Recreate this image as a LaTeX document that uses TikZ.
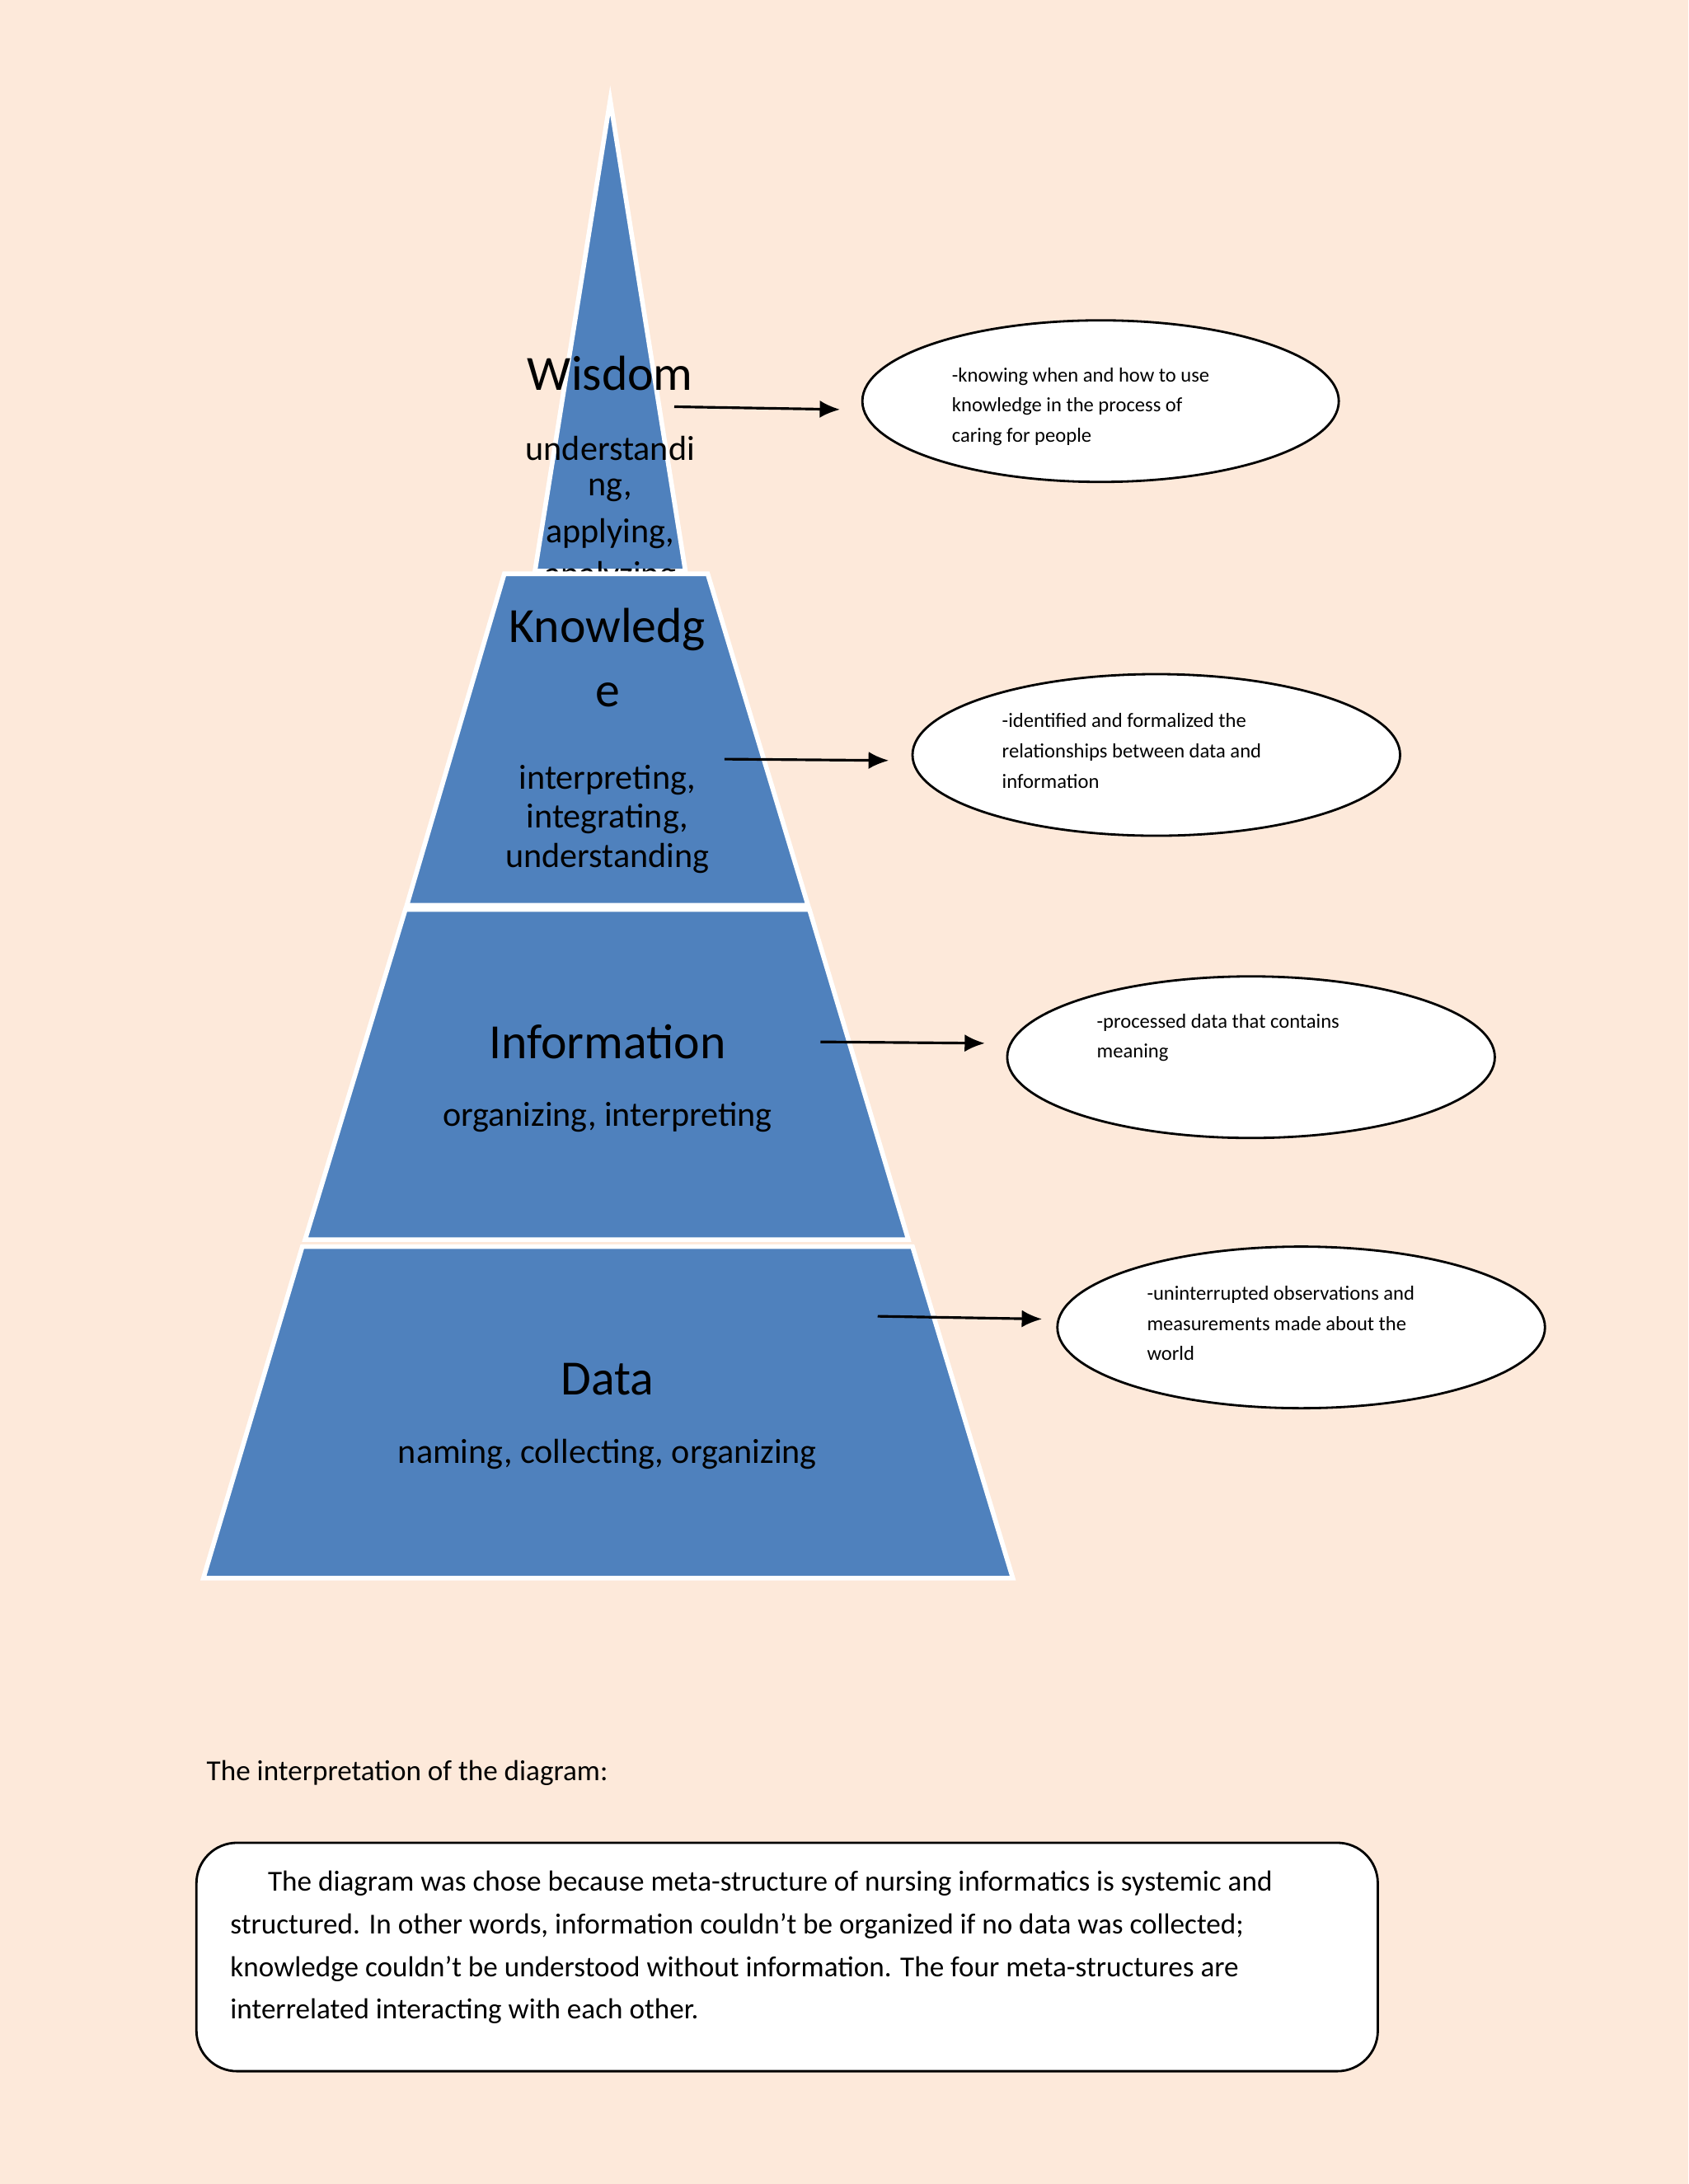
\documentclass[tikz,border=0pt]{standalone}
\usepackage{fontspec}
\setmainfont{Carlito}
\usetikzlibrary{arrows.meta}
\definecolor{bg}{HTML}{FDE9DA}
\definecolor{pyr}{HTML}{4F81BD}
\tikzset{
 layer/.style={fill=pyr,draw=white,line width=1.6pt},
 bubble/.style={ellipse,draw=black,fill=white,line width=0.8pt},
 conn/.style={-{Latex[length=7pt,width=6pt]},line width=0.9pt},
 big/.style={font=\fontsize{17}{20}\selectfont},
 mid/.style={font=\fontsize{12}{14.5}\selectfont},
 small/.style={font=\fontsize{7}{10.5}\selectfont,align=left,anchor=west},
}
\usetikzlibrary{shapes.geometric}
\begin{document}
\begin{tikzpicture}[x=0.0169cm,y=-0.0169cm]
\fill[bg] (0,0) rectangle (1212,1568);
\useasboundingbox (0,0) rectangle (1212,1568);
% wisdom
\draw[layer] (438,72) -- (492,410) -- (384,410) -- cycle;
\node[big] (tw) at (438,268) {Wisdom};
\node[mid] (tw1) at (438,322) {understandi};
\node[mid] (tw2) at (438,352) {ng,};
\node[mid] (tw3) at (438,383) {applying,};
\node[mid] (tw4) at (438,414) {analyzing};
% knowledge
\draw[layer] (362,412) -- (508,412) -- (580,650) -- (292,650) -- cycle;
\node[big] (tk1) at (436,452) {Knowledg};
\node[big] (tk2) at (436,499) {e};
\node[mid,align=center] (tk3) at (436,588) {interpreting,\\[-1pt]integrating,\\[-1pt]understanding};
% information
\draw[layer] (291,653) -- (581,653) -- (652,890) -- (219,890) -- cycle;
\node[big] (ti) at (436,748) {Information};
\node[mid] (ti2) at (436,802) {organizing, interpreting};
% data
\draw[layer] (217,895) -- (655,895) -- (727,1133) -- (146,1133) -- cycle;
\node[big] (td) at (436,990) {Data};
\node[mid] (td2) at (436,1044) {naming, collecting, organizing};
% ellipses
\draw[bubble] (790,288) ellipse [x radius=171,y radius=58];
\draw[bubble] (830,542) ellipse [x radius=175,y radius=58];
\draw[bubble] (898,759) ellipse [x radius=175,y radius=58];
\draw[bubble] (934,953) ellipse [x radius=175,y radius=58];
\node[small] (e1) at (676,292) {-knowing when and how to use\\knowledge in the process of\\caring for people};
\node[small] (e2) at (712,539) {-identified and formalized the\\relationships between data and\\information};
\node[small] (e3) at (780,745) {-processed data that contains\\meaning};
\node[small] (e4) at (816,950) {-uninterrupted observations and\\measurements made about the\\world};
% arrows
\coordinate (a1) at (484,292); \coordinate (b1) at (603,294);
\coordinate (a2) at (520,545); \coordinate (b2) at (638,546);
\coordinate (a3) at (589,748); \coordinate (b3) at (707,749);
\coordinate (a4) at (630,945); \coordinate (b4) at (748,947);
\draw[conn] (a1) -- (b1);
\draw[conn] (a2) -- (b2);
\draw[conn] (a3) -- (b3);
\draw[conn] (a4) -- (b4);
% bottom
\node[anchor=west,font=\fontsize{10}{12}\selectfont] (ttl) at (141,1273) {The interpretation of the diagram:};
\draw[fill=white,draw=black,line width=0.8pt,rounded corners=14pt] (141,1323) rectangle (989,1487);
\node[anchor=north west,align=left,font=\fontsize{10}{14.7}\selectfont] (body) at (158,1336)
{\hspace{1.3em}The diagram was chose because meta-structure of nursing informatics is systemic and\\
structured. In other words, information couldn’t be organized if no data was collected;\\
knowledge couldn’t be understood without information. The four meta-structures are\\
interrelated interacting with each other.};
\end{tikzpicture}
\end{document}
